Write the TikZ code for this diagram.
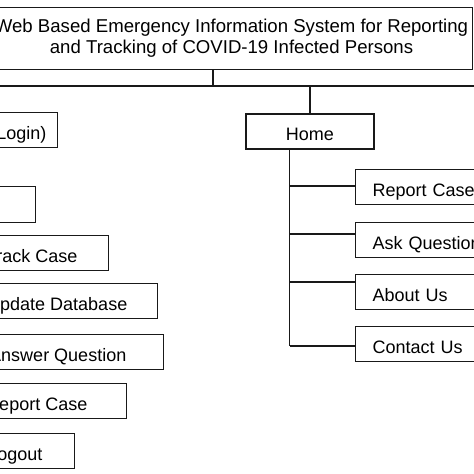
\documentclass[tikz,border=0pt]{standalone}
\usepackage{fontspec}
\setmainfont{Liberation Sans}
\begin{document}
\begin{tikzpicture}[x=1pt,y=-1pt,
  every node/.style={font=\fontsize{18}{21}\selectfont},
  line/.style={draw=black!90, line width=1.4pt},
  boxr/.style={line, rectangle, anchor=north east, inner xsep=#1, inner ysep=0pt,
     align=right, text height=18pt, text depth=0pt},
  boxl/.style={line, rectangle, anchor=north west, inner xsep=17pt, inner ysep=0pt,
     align=left, text height=18pt, text depth=0pt, text width=126pt, minimum height=35pt},
]
\useasboundingbox (0,0) rectangle (474,474);
\clip (0,0) rectangle (474,474);
% title
\node[line, rectangle, minimum width=482pt, minimum height=62pt, align=center,
      inner sep=0pt, font=\fontsize{18.6}{21}\selectfont] (title) at (231.5,38.5) {Web Based Emergency Information System for Reporting\\and Tracking of COVID-19 Infected Persons};
% main horizontal bar
\coordinate (j1) at (213,86);
\coordinate (hl) at (-20,86);
\coordinate (hr) at (500,86);
\draw[line] (title.south -| j1) -- (j1);
\draw[line] (hl) -- (hr);
% home
\node[line, rectangle, minimum width=128pt, minimum height=35pt, inner sep=0pt,
      text height=18pt, text depth=0pt] (home) at (310,131.5) {Home};
\draw[line] (home.north) -- (home.north |- hl);
% right children
\node[boxl] (rc) at (355,169) {Report Case};
\node[boxl] (aq) at (355,222) {Ask Question};
\node[boxl] (au) at (355,274) {About Us};
\node[boxl] (cu) at (355,326) {Contact Us};
\coordinate (b1) at (289.5,186);
\coordinate (b2) at (289.5,234);
\coordinate (b3) at (289.5,282);
\coordinate (b4) at (289.5,346);
\draw[line] (b1 |- home.south) -- (b4);
\draw[line] (b1) -- (rc.west |- b1);
\draw[line] (b2) -- (aq.west |- b2);
\draw[line] (b3) -- (au.west |- b3);
\draw[line] (b4) -- (cu.west |- b4);
% left children
\node[boxr=11pt, minimum height=35pt] (adm) at (58,112) {(Login)};
\node[line, rectangle, anchor=north east, minimum width=60pt, minimum height=36pt] (blank) at (36,186) {};
\node[boxr=31pt, minimum height=35pt] (trk) at (109,235) {Track Case};
\node[boxr=30pt, minimum height=35pt] (upd) at (158,283) {Update Database};
\node[boxr=37pt, minimum height=35pt] (ans) at (164,334) {Answer Question};
\node[boxr=39pt, minimum height=35pt] (rep) at (127,383) {Report Case};
\node[boxr=32pt, minimum height=35pt] (lgo) at (75,433) {Logout};
\end{tikzpicture}
\end{document}
